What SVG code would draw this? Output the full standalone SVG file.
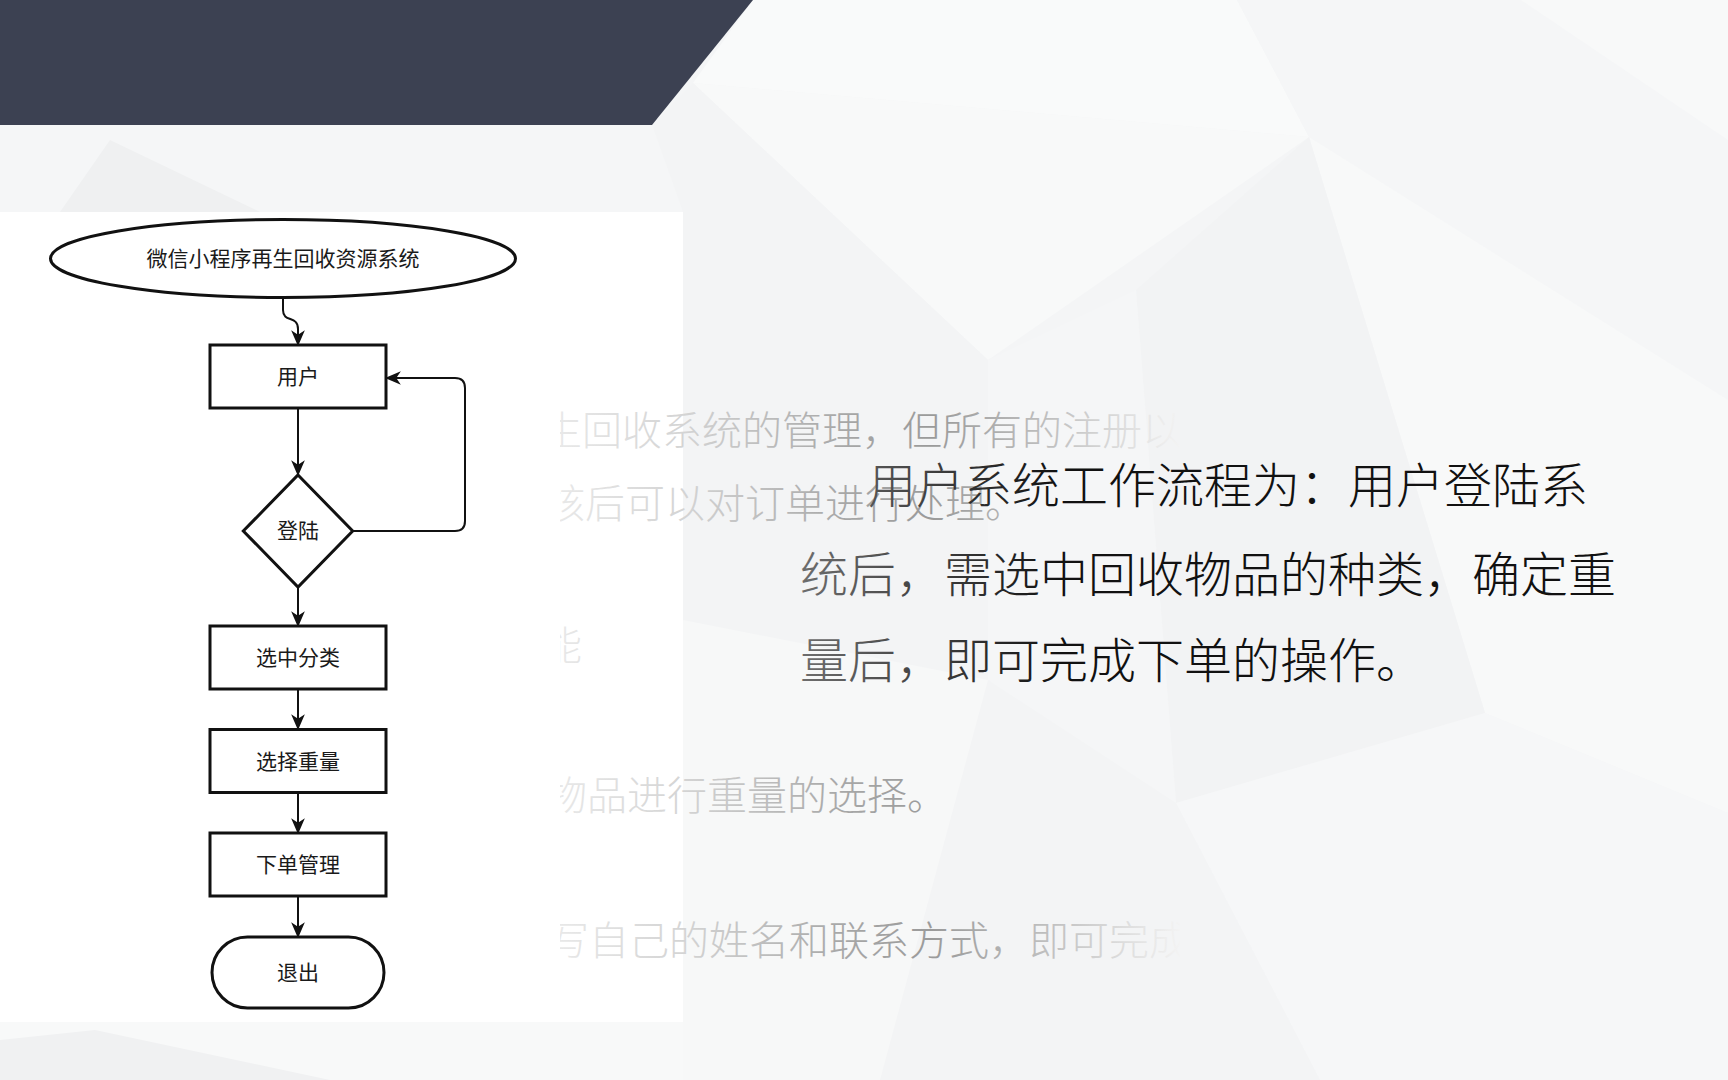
<svg xmlns="http://www.w3.org/2000/svg" width="1728" height="1080" viewBox="0 0 1728 1080">
  <style>
    .node { fill: #ffffff; stroke: #111111; stroke-width: 3; }
    .lbl { font-family: "Noto Sans CJK SC", "Liberation Sans", sans-serif; font-size: 21px; fill: #1a1a1a; text-anchor: middle; }
    .edge { fill: none; stroke: #111111; stroke-width: 2; }
    .ghost { font-family: "Noto Sans CJK SC", "Liberation Serif", serif; font-size: 40px; font-weight: 300; fill: url(#ghostGrad); }
    .main { font-family: "Noto Sans CJK SC", "Liberation Sans", sans-serif; font-size: 48px; font-weight: 300; fill: url(#mainGrad); }
  </style>
  <defs>
    <marker id="arr" viewBox="0 0 14 12" refX="13" refY="6" markerWidth="16" markerHeight="14" markerUnits="userSpaceOnUse" orient="auto">
      <path d="M0,0 L14,6 L0,12 L4,6 Z" fill="#111111"/>
    </marker>
    <linearGradient id="ghostGrad" gradientUnits="userSpaceOnUse" x1="560" y1="0" x2="1180" y2="0">
      <stop offset="0" stop-color="#e8e8e8"/>
      <stop offset="0.2" stop-color="#d4d4d4"/>
      <stop offset="0.45" stop-color="#a8a8a8"/>
      <stop offset="0.6" stop-color="#9a9a9a"/>
      <stop offset="0.8" stop-color="#c2c2c2"/>
      <stop offset="1" stop-color="#f3f3f3"/>
    </linearGradient>
    <linearGradient id="mainGrad" gradientUnits="userSpaceOnUse" x1="800" y1="0" x2="1060" y2="0">
      <stop offset="0" stop-color="#6e6e6e"/>
      <stop offset="1" stop-color="#111111"/>
    </linearGradient>
    <clipPath id="ghostClip">
      <rect x="560" y="0" width="620" height="1080"/>
    </clipPath>
  </defs>

  <!-- background low-poly -->
  <g id="background">
    <rect x="0" y="0" width="1728" height="1080" fill="#f4f5f6"/>
    <polygon points="753,0 1237,0 1309,137 693,83" fill="#f9fafa"/>
    <polygon points="1237,0 1521,0 1728,140 1728,400 1309,137" fill="#f5f6f7"/>
    <polygon points="1521,0 1728,0 1728,140" fill="#f8f9f9"/>
    <polygon points="693,83 1309,137 988,360" fill="#f8f9f9"/>
    <polygon points="693,83 988,360 988,680 683,620 683,212 652,125" fill="#f3f4f5"/>
    <polygon points="1309,137 1728,400 1728,813 1485,713" fill="#f8f9f9"/>
    <polygon points="1309,137 1485,713 1176,803 1136,290" fill="#f2f3f4"/>
    <polygon points="1136,290 1176,803 988,680 988,360" fill="#f5f6f7"/>
    <polygon points="1176,803 1485,713 1728,813 1728,1080 1320,1080" fill="#f6f7f8"/>
    <polygon points="988,680 1176,803 1320,1080 880,1080" fill="#f3f4f5"/>
    <polygon points="683,620 988,680 880,1080 683,1080" fill="#f7f8f8"/>
    <polygon points="0,1022 683,1022 683,1080 0,1080" fill="#f8f9f9"/>
    <polygon points="95,1030 330,1080 0,1080 0,1040" fill="#f0f1f2"/>
    <polygon points="0,125 652,125 683,212 0,212" fill="#f5f6f7"/>
    <polygon points="110,140 260,212 60,212" fill="#eff0f1"/>
    <polygon points="0,0 753,0 652,125 0,125" fill="#3c4152"/>
  </g>

  <!-- white panel -->
  <rect id="panel" x="0" y="212" width="683" height="810" fill="#ffffff"/>

  <!-- faded background text -->
  <g id="ghost-text" clip-path="url(#ghostClip)">
    <text class="ghost" x="542" y="445">生回收系统的管理，但所有的注册以</text>
    <text class="ghost" x="545" y="518">核后可以对订单进行处理。</text>
    <text class="ghost" x="542" y="660">能</text>
    <text class="ghost" x="547" y="810">物品进行重量的选择。</text>
    <text class="ghost" x="549" y="955">写自己的姓名和联系方式，即可完成</text>
  </g>

  <!-- connectors -->
  <g id="connectors">
    <path class="edge" d="M283,298 V310 C283,323 298,315 298,329 V345" marker-end="url(#arr)"/>
    <path class="edge" d="M298,408 V475" marker-end="url(#arr)"/>
    <path class="edge" d="M352.7,531 H455 Q465,531 465,521 V388 Q465,378 455,378 H386" marker-end="url(#arr)"/>
    <path class="edge" d="M298,587 V626" marker-end="url(#arr)"/>
    <path class="edge" d="M298,689 V729" marker-end="url(#arr)"/>
    <path class="edge" d="M298,793 V833" marker-end="url(#arr)"/>
    <path class="edge" d="M298,896 V937" marker-end="url(#arr)"/>
  </g>

  <!-- nodes -->
  <g id="node-start">
    <ellipse class="node" cx="283" cy="258.5" rx="232.5" ry="39"/>
    <text class="lbl" x="283" y="266">微信小程序再生回收资源系统</text>
  </g>
  <g id="node-user">
    <rect class="node" x="210" y="345" width="176" height="63"/>
    <text class="lbl" x="298" y="384">用户</text>
  </g>
  <g id="node-login">
    <polygon class="node" points="298,475 352.7,531 298,587 243.3,531"/>
    <text class="lbl" x="298" y="538">登陆</text>
  </g>
  <g id="node-category">
    <rect class="node" x="210" y="626" width="176" height="63"/>
    <text class="lbl" x="298" y="665">选中分类</text>
  </g>
  <g id="node-weight">
    <rect class="node" x="210" y="729.5" width="176" height="63"/>
    <text class="lbl" x="298" y="768.5">选择重量</text>
  </g>
  <g id="node-order">
    <rect class="node" x="210" y="833" width="176" height="63"/>
    <text class="lbl" x="298" y="872">下单管理</text>
  </g>
  <g id="node-exit">
    <rect class="node" x="212" y="937" width="172" height="71" rx="35.5" ry="35.5"/>
    <text class="lbl" x="298" y="980">退出</text>
  </g>

  <!-- main description text -->
  <g id="description">
    <text class="main" x="868" y="503">用户系统工作流程为：用户登陆系</text>
    <text class="main" x="800" y="592">统后，需选中回收物品的种类，确定重</text>
    <text class="main" x="800" y="678">量后，即可完成下单的操作。</text>
  </g>
</svg>
